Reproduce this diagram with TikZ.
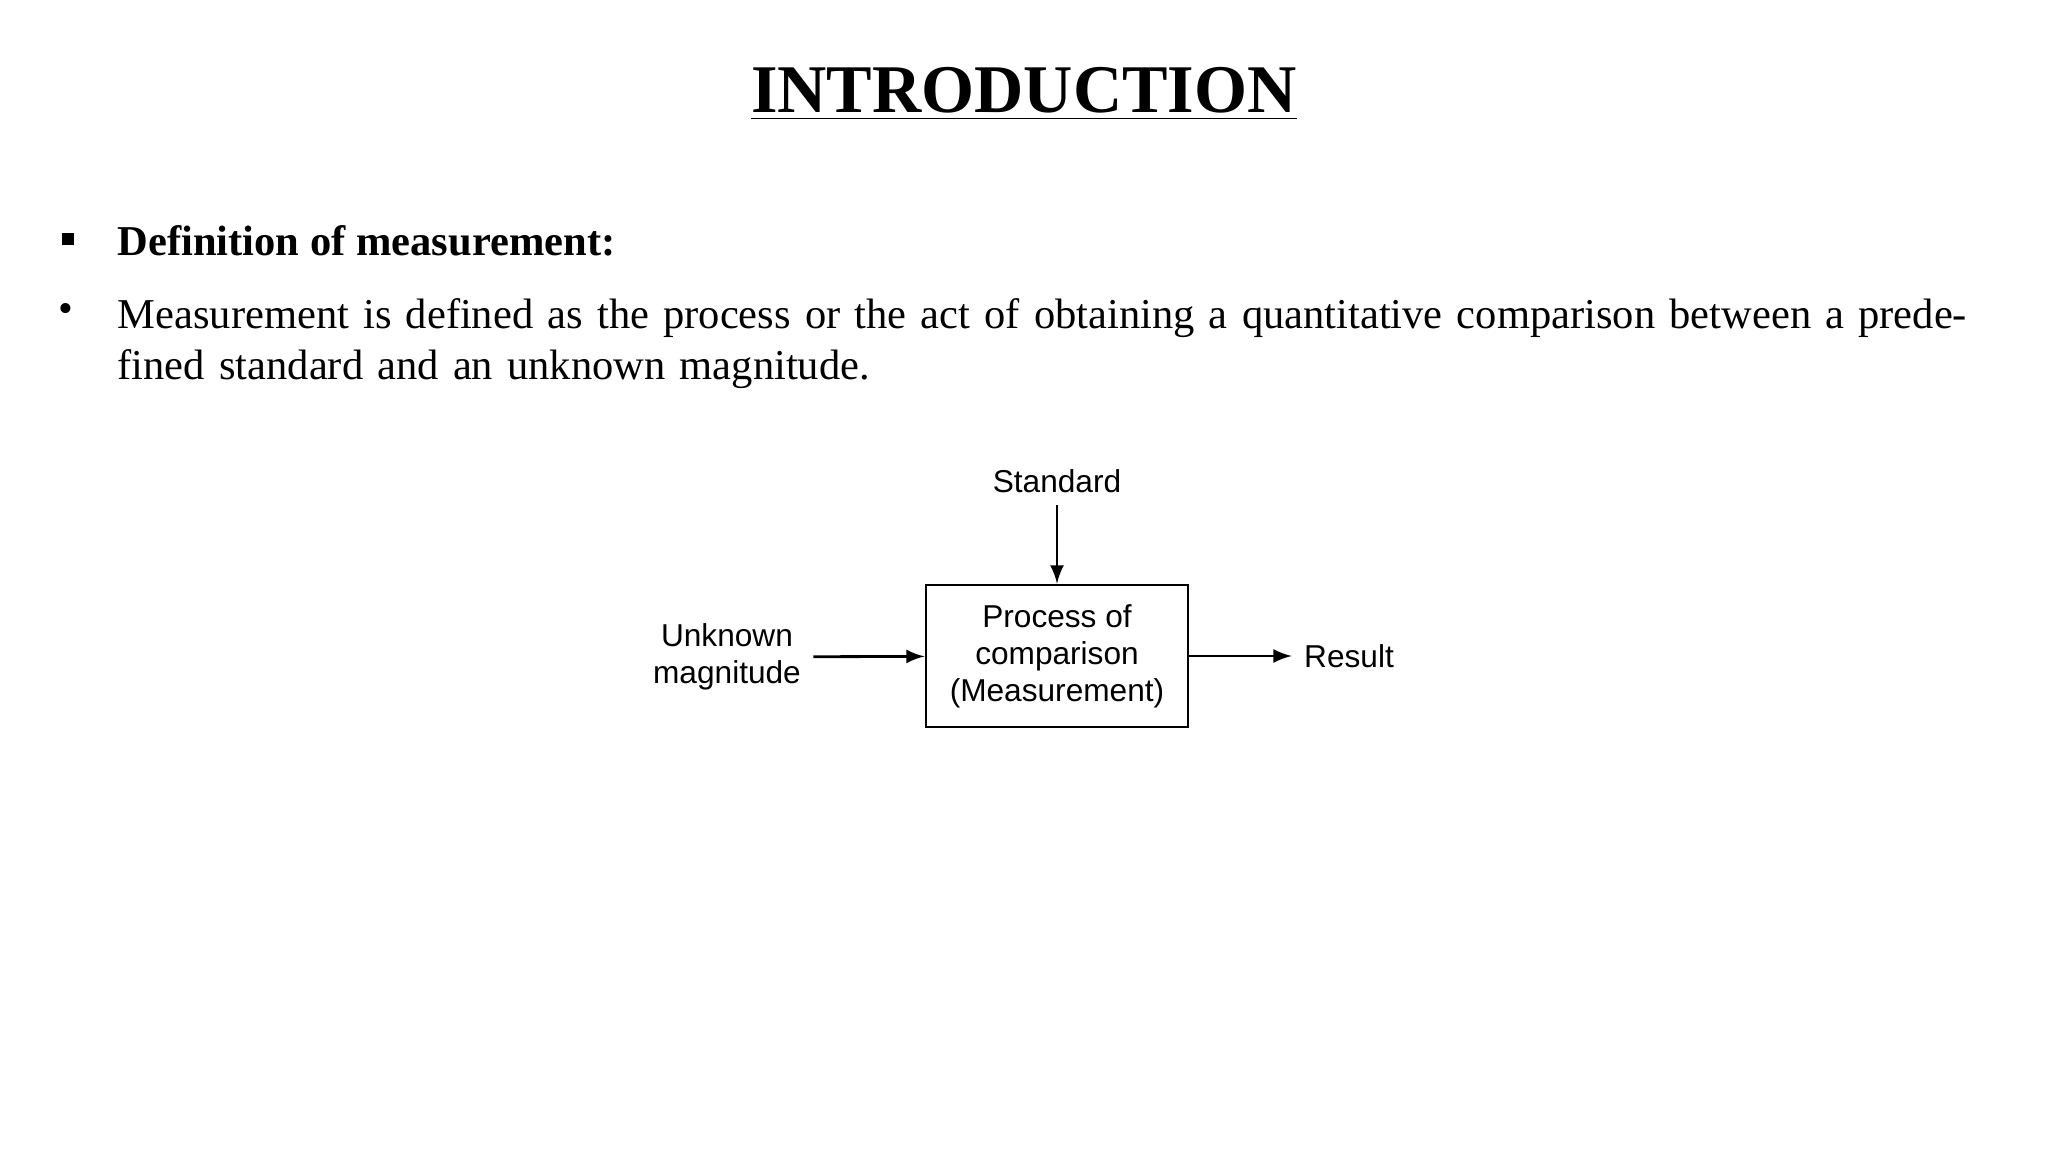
\documentclass[tikz,border=0pt]{standalone}
\usepackage{fontspec}
\setmainfont{Liberation Serif}
\newfontfamily\diagfont{Liberation Sans}
\usetikzlibrary{positioning}

\begin{document}
\begin{tikzpicture}[x=1cm,y=1cm,
        blocklabel/.style={font=\diagfont\fontsize{9}{10.5}\selectfont,align=center},
        flow/.style={->,>=latex,thick}]
        \useasboundingbox (0,0) rectangle (20.48,-11.52);
                % heading and text
                \node[font=\bfseries\fontsize{19.4}{23}\selectfont] (title) at (10.24,-0.94){\underline{INTRODUCTION}};
                \node[fill=black,minimum size=0.12cm,inner sep=0pt] (sq) at (0.68,-2.39){};
                \node[anchor=west,inner sep=0pt,font=\bfseries\fontsize{12.1}{14}\selectfont] (defn) at (1.17,-2.41){Definition of measurement:};
                \node[font=\fontsize{12}{14}\selectfont] (dot) at (0.66,-3.13){\textbullet};
                \node[anchor=north west,text width=19.2cm,align=left,inner sep=0pt,font=\fontsize{12.1}{14.5}\selectfont] (body) at (1.17,-2.98){Measurement is defined as the process or the act of obtaining a quantitative comparison between a predefined standard and an unknown magnitude.};

                % block diagram
                \node[draw,thick,minimum width=2.62cm,minimum height=1.42cm,blocklabel] (PROC) at (10.57,-6.56){Process of\\comparison\\(Measurement)};
                \node[blocklabel] (STD) at (10.57,-4.81){Standard};
                \node[blocklabel] (UNK) at (7.27,-6.57){Unknown\\magnitude};
                \node[blocklabel] (RES) at (13.49,-6.56){Result};

                \draw[flow] (STD) -- (PROC);
                \draw[flow] (UNK) -- (PROC);
                \draw[flow] (PROC) -- (RES);
        \end{tikzpicture}
\end{document}
